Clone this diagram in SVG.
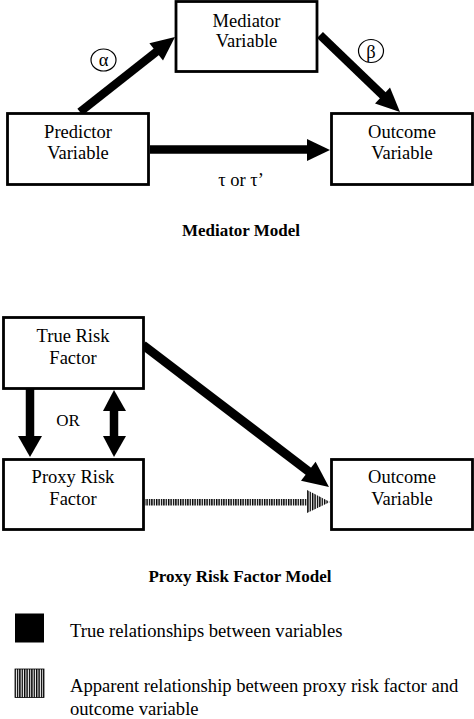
<svg xmlns="http://www.w3.org/2000/svg" width="474" height="719" viewBox="0 0 474 719" font-family="'Liberation Serif', 'DejaVu Serif', serif">
<style>
.box{fill:#fff;stroke:#000;stroke-width:2.8}
text{font-family:'Liberation Serif','DejaVu Serif',serif;fill:#000}
.t{font-size:18.5px;text-anchor:middle}
.lg{font-size:18.6px}
.ttl{font-size:17px;font-weight:bold;text-anchor:middle}
.sh{stroke:#000;stroke-width:8.5;fill:none}
.hd{fill:#000}
.hz{fill:url(#hatch)}
.lab{fill:#fff;stroke:#000;stroke-width:1.2}
</style>
<defs>
<pattern id="hatch" patternUnits="userSpaceOnUse" width="2.4" height="10">
<rect x="0" y="0" width="2.4" height="10" fill="#fff"/>
<rect x="0" y="0" width="1.4" height="10" fill="#000"/>
</pattern>
</defs>
<rect width="474" height="719" fill="#fff"/>
<g id="connectors">
<line class="sh" x1="80" y1="112" x2="158" y2="50.5"/>
<polygon class="hd" points="175,37 163,60.5 149.4,43.3"/>
<line class="sh" x1="320" y1="35" x2="385" y2="97.5"/>
<polygon class="hd" points="400,112 375,103.6 390,87.6"/>
<line class="sh" x1="150" y1="149.5" x2="309" y2="149.5"/>
<polygon class="hd" points="307,139 330,150 307,161"/>
<line class="sh" x1="143" y1="345" x2="310" y2="472.5" style="stroke-width:9"/>
<polygon class="hd" points="329,487 301,480.7 315.6,461.7"/>
<line class="sh" x1="30" y1="389" x2="30" y2="438"/>
<polygon class="hd" points="18,436 42,436 30,457"/>
<line class="sh" x1="114" y1="409" x2="114" y2="438"/>
<polygon class="hd" points="114,390 103,411 126,411"/>
<polygon class="hd" points="103,436 126,436 114,457"/>
<rect class="hz" x="145" y="499" width="163" height="6.5"/>
<polygon class="hz" points="307,490 330,502 307,513"/>
</g>
<g id="alpha-label">
<ellipse class="lab" cx="103.5" cy="60" rx="12.5" ry="11"/>
<text class="t" x="103.5" y="66">α</text>
</g>
<g id="beta-label">
<ellipse class="lab" cx="371" cy="51" rx="12.5" ry="11.5"/>
<text class="t" x="371" y="57.5">β</text>
</g>
<g id="mediator">
<rect class="box" x="176" y="1.5" width="141" height="70"/>
<text class="t" x="246.5" y="27">Mediator</text>
<text class="t" x="246.5" y="47">Variable</text>
</g>
<g id="predictor">
<rect class="box" x="7.5" y="113.5" width="141" height="71"/>
<text class="t" x="78" y="138">Predictor</text>
<text class="t" x="78" y="159">Variable</text>
</g>
<g id="outcome1">
<rect class="box" x="331.5" y="113.5" width="141" height="71"/>
<text class="t" x="402" y="138">Outcome</text>
<text class="t" x="402" y="159">Variable</text>
</g>
<text class="t" x="241" y="186">τ or τ’</text>
<text class="ttl" x="241" y="236">Mediator Model</text>
<g id="true-risk">
<rect class="box" x="3.5" y="317.5" width="140" height="71"/>
<text class="t" x="73" y="342">True Risk</text>
<text class="t" x="73" y="364">Factor</text>
</g>
<g id="proxy-risk">
<rect class="box" x="3.5" y="459.5" width="140" height="70"/>
<text class="t" x="73" y="483">Proxy Risk</text>
<text class="t" x="73" y="505">Factor</text>
</g>
<g id="outcome2">
<rect class="box" x="331.5" y="459.5" width="141" height="70"/>
<text class="t" x="402" y="483">Outcome</text>
<text class="t" x="402" y="505">Variable</text>
</g>
<text class="t" x="68" y="426" style="font-size:17px">OR</text>
<text class="ttl" x="240" y="582">Proxy Risk Factor Model</text>
<g id="legend">
<rect x="15" y="613.5" width="29" height="29" fill="#000"/>
<text class="lg" x="70" y="637">True relationships between variables</text>
<rect x="15" y="669" width="29" height="28.5" class="hz" stroke="#000" stroke-width="0.8"/>
<text class="lg" x="70" y="692">Apparent relationship between proxy risk factor and</text>
<text class="lg" x="70" y="715">outcome variable</text>
</g>
</svg>
